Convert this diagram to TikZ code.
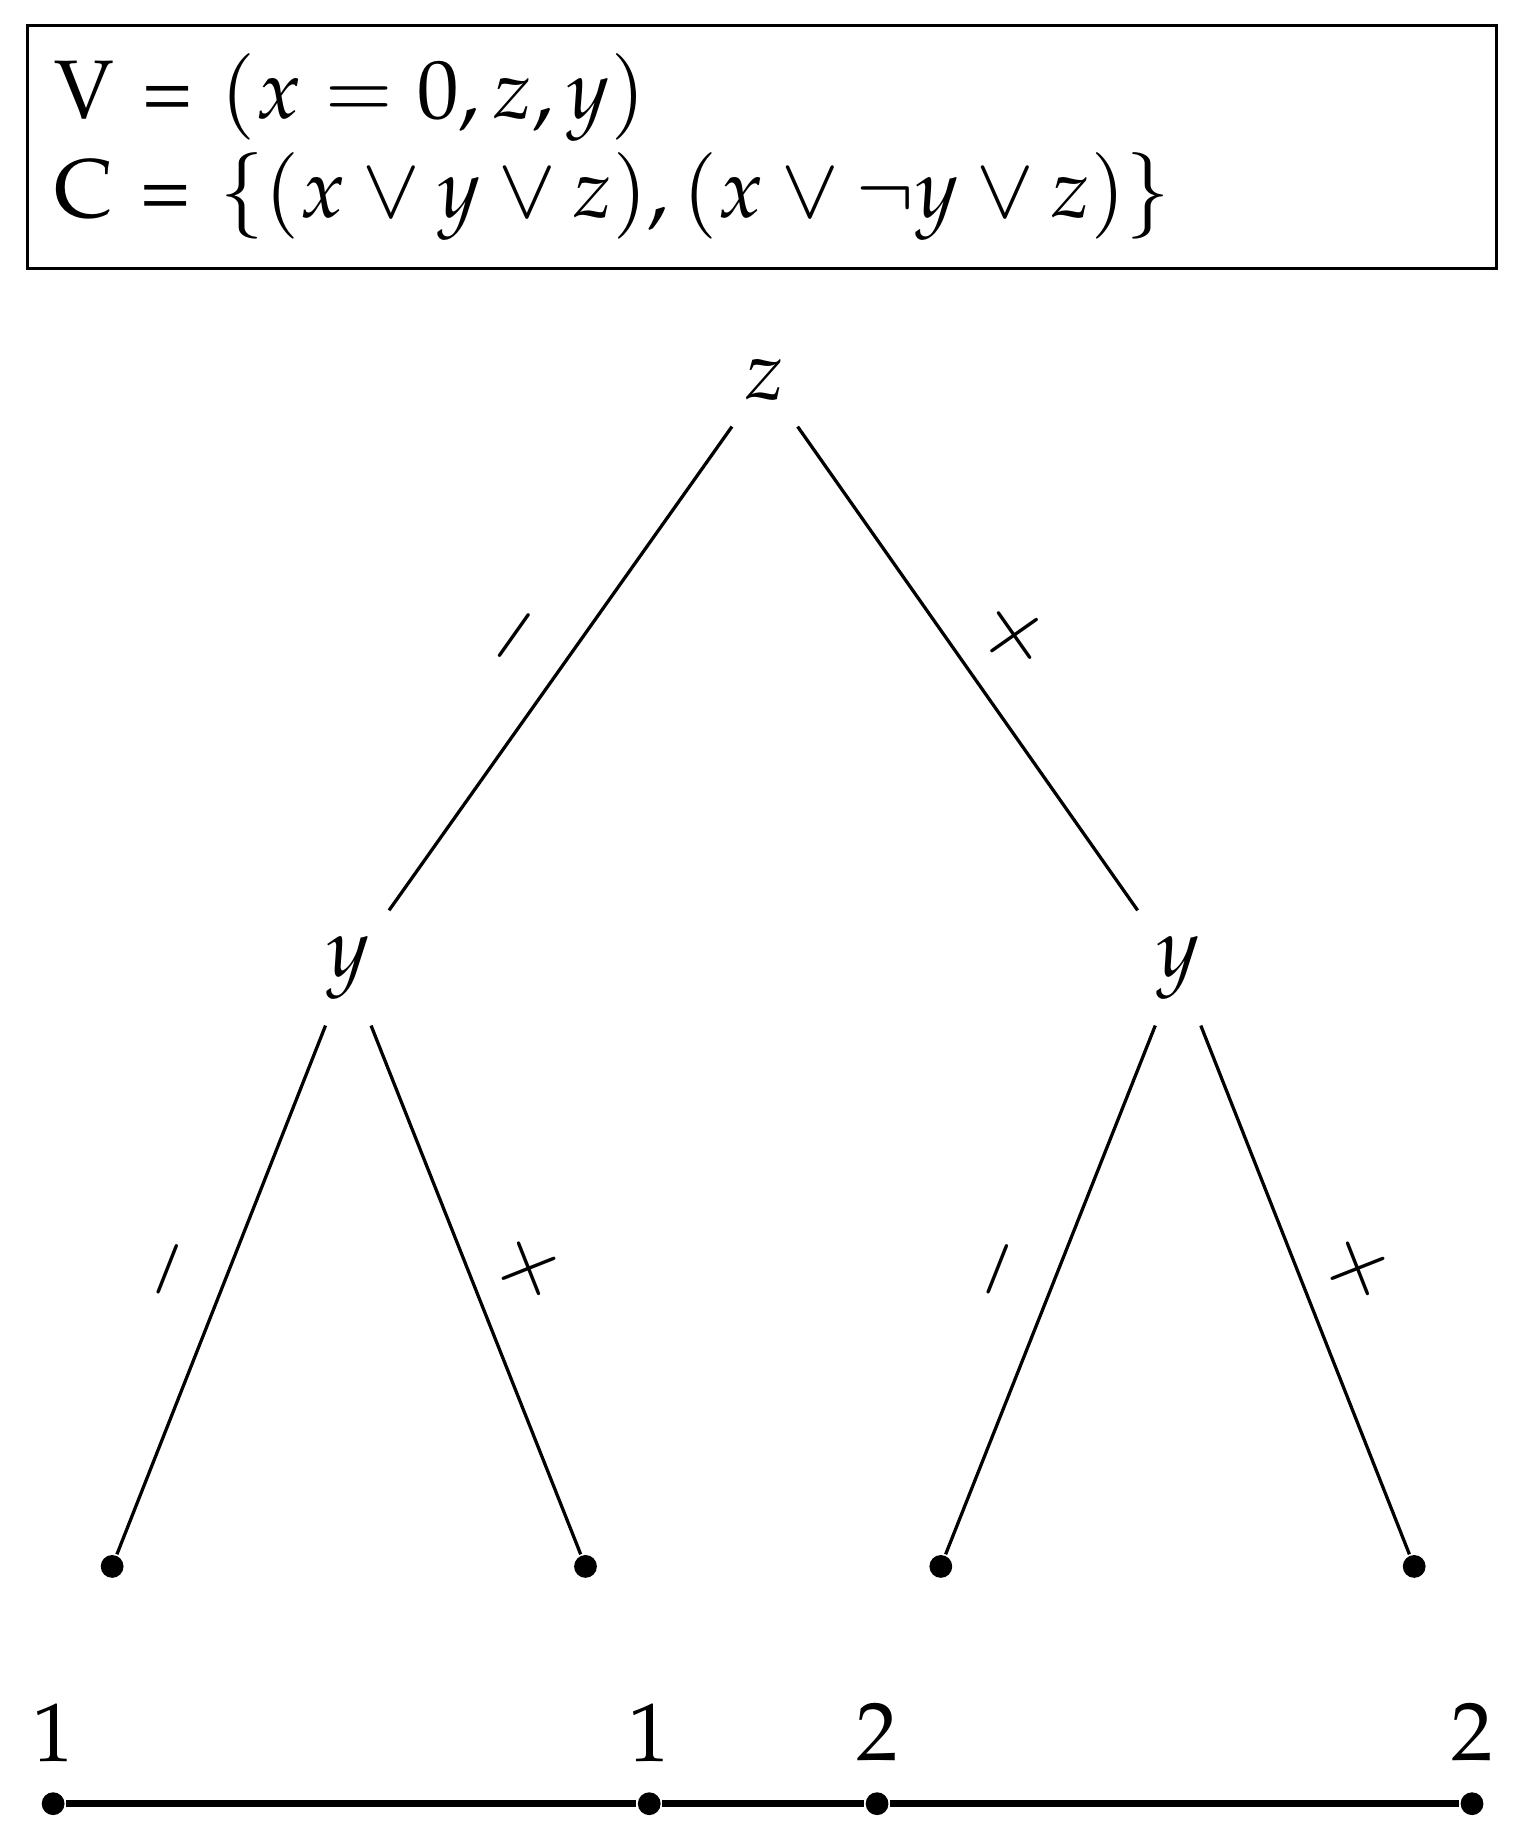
\documentclass[tikz,border=0pt]{standalone}
\usepackage[T1]{fontenc}
\usepackage{mathpazo}
\usepackage{amsmath}
\usetikzlibrary{positioning}
\tikzset{%
	tree var/.style={
		inner sep=3pt
	},
	leaf dot/.style={
		circle,
		fill=black,
		inner sep=0pt,
		minimum size=2.8pt
	},
	sign mark/.style={
		midway,
		sloped,
		yshift=7pt,
		inner sep=0pt
	},
}

\begin{document}
\begin{tikzpicture}[x=0.145pt, y=-0.145pt, font=\fontsize{10.2}{12.1}\selectfont]
	% Define the height of the number line
	\newcommand{\lineY}{1528}
	\useasboundingbox (0,0) rectangle (1291,1563);

	% Variables and clauses
	\node[draw, anchor=north west, text width=173.8pt, minimum height=29.9pt, inner xsep=3.3pt, inner ysep=0pt, align=left] (formulas) at (22,20) {V = $(x = 0, z, y)$\\C = $\{(x \vee y \vee z), (x \vee \neg y \vee z)\}$};

	% Tree over z and y
	\node[tree var] (root) at (648,322) {$z$};
	\node[tree var] (yleft) at (295,820) {$y$};
	\node[tree var] (yright) at (998,820) {$y$};
	\foreach \x [count=\i] in {95,496,797,1198} {
		\node[leaf dot] (leaf\i) at (\x,1327) {};
	}
	\draw (root) -- node[sign mark] {$-$} (yleft);
	\draw (root) -- node[sign mark] {$+$} (yright);
	\draw (yleft) -- node[sign mark] {$-$} (leaf1);
	\draw (yleft) -- node[sign mark] {$+$} (leaf2);
	\draw (yright) -- node[sign mark] {$-$} (leaf3);
	\draw (yright) -- node[sign mark] {$+$} (leaf4);

	% Number line
	\foreach \x/\n [count=\i] in {45/1,550/1,743/2,1247/2} {
		\node[leaf dot] (pt\i) at (\x,\lineY) {};
		\node (num\i) at (\x,1468) {$\n$};
	}
	\draw[line width=0.9pt] (pt1) -- (pt2) -- (pt3) -- (pt4);
\end{tikzpicture}
\end{document}
